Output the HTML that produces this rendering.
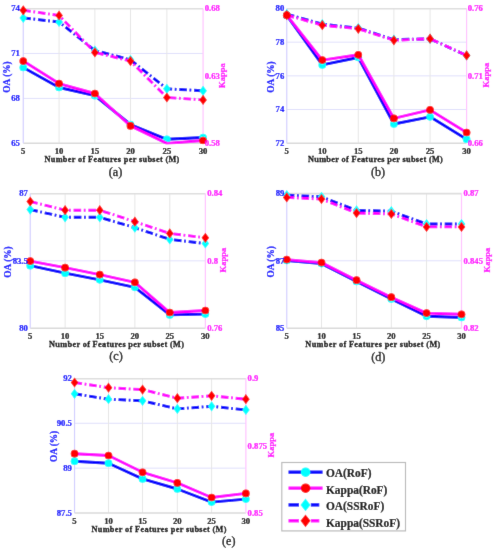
<!DOCTYPE html>
<html><head><meta charset="utf-8"><style>
html,body{margin:0;padding:0;background:#fff;}
svg{display:block;}
text{font-family:'Liberation Serif', serif;}
.tl{font-size:8.7px;font-weight:bold;stroke-width:0.22px;}
.xl{font-size:9.0px;font-weight:bold;fill:#000;stroke:#000;stroke-width:0.28px;}
.yl{font-size:9.3px;font-weight:bold;stroke-width:0.2px;}
.kl{font-size:8.6px;font-weight:bold;stroke-width:0.2px;}
.ti{font-size:12.2px;fill:#000;stroke:#000;stroke-width:0.3px;}
.lg{font-size:11.4px;font-weight:bold;fill:#000;stroke:#000;stroke-width:0.2px;}
</style></head><body>
<svg width="496" height="550" viewBox="0 0 496 550">
<defs>
<filter id="bl" x="0" y="0" width="496" height="550" filterUnits="userSpaceOnUse" primitiveUnits="userSpaceOnUse"><feConvolveMatrix order="3" kernelMatrix="0.0052 0.0619 0.0052 0.0619 0.7314 0.0619 0.0052 0.0619 0.0052" edgeMode="duplicate"/></filter>
<clipPath id="ca"><rect x="17.27" y="0.5" width="191.81" height="144.05"/></clipPath>
<clipPath id="cb"><rect x="280.75" y="0.5" width="191.85" height="143.9"/></clipPath>
<clipPath id="cc"><rect x="24.24" y="185.45" width="187.12" height="143.95"/></clipPath>
<clipPath id="cd"><rect x="280.75" y="185.3" width="186.75" height="144.1"/></clipPath>
<clipPath id="ce"><rect x="68.54" y="370.4" width="183.33" height="143.8"/></clipPath>
</defs>
<g filter="url(#bl)">
<rect width="496" height="550" fill="#fff"/>
<line x1="23.27" y1="53.45" x2="203.08" y2="53.45" stroke="#e0e0fc" stroke-width="1"/>
<line x1="23.27" y1="98.4" x2="203.08" y2="98.4" stroke="#e0e0fc" stroke-width="1"/>
<line x1="59.07" y1="8.5" x2="59.07" y2="143.35" stroke="#e6e6e6" stroke-width="1"/>
<line x1="94.88" y1="8.5" x2="94.88" y2="143.35" stroke="#e6e6e6" stroke-width="1"/>
<line x1="130.48" y1="8.5" x2="130.48" y2="143.35" stroke="#e6e6e6" stroke-width="1"/>
<line x1="166.88" y1="8.5" x2="166.88" y2="143.35" stroke="#e6e6e6" stroke-width="1"/>
<line x1="23.27" y1="8.8" x2="203.08" y2="8.8" stroke="#dedede" stroke-width="1.6"/>
<line x1="23.27" y1="143.35" x2="203.08" y2="143.35" stroke="#dadada" stroke-width="1.5"/>
<line x1="23.27" y1="8.5" x2="23.27" y2="143.35" stroke="#d4d0ff" stroke-width="1.2"/>
<line x1="203.08" y1="8.5" x2="203.08" y2="143.35" stroke="#ffc4ff" stroke-width="1.2"/>
<g clip-path="url(#ca)">
<polyline points="23.27,67.5 59.07,87.5 94.88,95.7 130.48,124.5 166.88,139.3 203.08,137.5" fill="none" stroke="#0000ff" stroke-width="2.9" stroke-linejoin="round"/>
<polyline points="23.27,17.9 59.07,22 94.88,50.5 130.48,59.8 166.88,88.8 203.08,90.8" fill="none" stroke="#0000ff" stroke-width="2.9" stroke-dasharray="7.6 2.6 1.8 2.8"/>
<circle cx="23.27" cy="67.5" r="3.85" fill="#00ffff"/>
<circle cx="59.07" cy="87.5" r="3.85" fill="#00ffff"/>
<circle cx="94.88" cy="95.7" r="3.85" fill="#00ffff"/>
<circle cx="130.48" cy="124.5" r="3.85" fill="#00ffff"/>
<circle cx="166.88" cy="139.3" r="3.85" fill="#00ffff"/>
<circle cx="203.08" cy="137.5" r="3.85" fill="#00ffff"/>
<path d="M23.27 12.8L27.07 17.9L23.27 23L19.47 17.9Z" fill="#00ffff"/>
<path d="M59.07 16.9L62.87 22L59.07 27.1L55.27 22Z" fill="#00ffff"/>
<path d="M94.88 45.4L98.68 50.5L94.88 55.6L91.08 50.5Z" fill="#00ffff"/>
<path d="M130.48 54.7L134.28 59.8L130.48 64.9L126.68 59.8Z" fill="#00ffff"/>
<path d="M166.88 83.7L170.68 88.8L166.88 93.9L163.08 88.8Z" fill="#00ffff"/>
<path d="M203.08 85.7L206.88 90.8L203.08 95.9L199.28 90.8Z" fill="#00ffff"/>
<polyline points="23.27,61.1 59.07,83.6 94.88,93.5 130.48,125.9 166.88,143.4 203.08,140.5" fill="none" stroke="#ff00ff" stroke-width="2.9" stroke-linejoin="round"/>
<polyline points="23.27,10.3 59.07,15.5 94.88,52.4 130.48,61.1 166.88,97.5 203.08,99.9" fill="none" stroke="#ff00ff" stroke-width="2.9" stroke-dasharray="7.6 2.6 1.8 2.8"/>
<circle cx="23.27" cy="61.1" r="3.85" fill="#ff0000"/>
<circle cx="59.07" cy="83.6" r="3.85" fill="#ff0000"/>
<circle cx="94.88" cy="93.5" r="3.85" fill="#ff0000"/>
<circle cx="130.48" cy="125.9" r="3.85" fill="#ff0000"/>
<circle cx="203.08" cy="140.5" r="3.85" fill="#ff0000"/>
<path d="M23.27 5.2L27.07 10.3L23.27 15.4L19.47 10.3Z" fill="#ff0000"/>
<path d="M59.07 10.4L62.87 15.5L59.07 20.6L55.27 15.5Z" fill="#ff0000"/>
<path d="M94.88 47.3L98.68 52.4L94.88 57.5L91.08 52.4Z" fill="#ff0000"/>
<path d="M130.48 56L134.28 61.1L130.48 66.2L126.68 61.1Z" fill="#ff0000"/>
<path d="M166.88 92.4L170.68 97.5L166.88 102.6L163.08 97.5Z" fill="#ff0000"/>
<path d="M203.08 94.8L206.88 99.9L203.08 105L199.28 99.9Z" fill="#ff0000"/>
</g>
<text x="19.87" y="11.4" text-anchor="end" class="tl" fill="#0000ff" stroke="#0000ff">74</text>
<text x="19.87" y="56.35" text-anchor="end" class="tl" fill="#0000ff" stroke="#0000ff">71</text>
<text x="19.87" y="101.3" text-anchor="end" class="tl" fill="#0000ff" stroke="#0000ff">68</text>
<text x="19.87" y="146.25" text-anchor="end" class="tl" fill="#0000ff" stroke="#0000ff">65</text>
<text x="204.68" y="11.4" class="tl" fill="#ff00ff" stroke="#ff00ff">0.68</text>
<text x="204.68" y="78.83" class="tl" fill="#ff00ff" stroke="#ff00ff">0.63</text>
<text x="204.68" y="146.25" class="tl" fill="#ff00ff" stroke="#ff00ff">0.58</text>
<text x="23.27" y="153.9" text-anchor="middle" class="tl" fill="#000" stroke="#000">5</text>
<text x="59.07" y="153.9" text-anchor="middle" class="tl" fill="#000" stroke="#000">10</text>
<text x="94.88" y="153.9" text-anchor="middle" class="tl" fill="#000" stroke="#000">15</text>
<text x="130.48" y="153.9" text-anchor="middle" class="tl" fill="#000" stroke="#000">20</text>
<text x="166.88" y="153.9" text-anchor="middle" class="tl" fill="#000" stroke="#000">25</text>
<text x="203.08" y="153.9" text-anchor="middle" class="tl" fill="#000" stroke="#000">30</text>
<text transform="translate(111.88 162.3) scale(0.92 1)" text-anchor="middle" class="xl" textLength="146.74" lengthAdjust="spacing">Number of Features per subset (M)</text>
<text transform="translate(10.2 77) rotate(-90)" text-anchor="middle" class="yl" fill="#0000ff" stroke="#0000ff">OA (%)</text>
<text transform="translate(224.9 75.6) rotate(-90)" text-anchor="middle" class="kl" fill="#ff00ff" stroke="#ff00ff">Kappa</text>
<text x="115.5" y="176.1" text-anchor="middle" class="ti">(a)</text>
<line x1="286.75" y1="42.17" x2="466.6" y2="42.17" stroke="#e0e0fc" stroke-width="1"/>
<line x1="286.75" y1="75.85" x2="466.6" y2="75.85" stroke="#e0e0fc" stroke-width="1"/>
<line x1="286.75" y1="109.52" x2="466.6" y2="109.52" stroke="#e0e0fc" stroke-width="1"/>
<line x1="322.3" y1="8.5" x2="322.3" y2="143.2" stroke="#e6e6e6" stroke-width="1"/>
<line x1="358.3" y1="8.5" x2="358.3" y2="143.2" stroke="#e6e6e6" stroke-width="1"/>
<line x1="393.9" y1="8.5" x2="393.9" y2="143.2" stroke="#e6e6e6" stroke-width="1"/>
<line x1="430.06" y1="8.5" x2="430.06" y2="143.2" stroke="#e6e6e6" stroke-width="1"/>
<line x1="286.75" y1="8.8" x2="466.6" y2="8.8" stroke="#dedede" stroke-width="1.6"/>
<line x1="286.75" y1="143.2" x2="466.6" y2="143.2" stroke="#dadada" stroke-width="1.5"/>
<line x1="286.75" y1="8.5" x2="286.75" y2="143.2" stroke="#d4d0ff" stroke-width="1.2"/>
<line x1="466.6" y1="8.5" x2="466.6" y2="143.2" stroke="#ffc4ff" stroke-width="1.2"/>
<g clip-path="url(#cb)">
<polyline points="286.75,15.5 322.3,64.9 358.3,57.5 393.9,124 430.06,116.8 466.6,139.2" fill="none" stroke="#0000ff" stroke-width="2.9" stroke-linejoin="round"/>
<polyline points="286.75,14.2 322.3,24.2 358.3,28.1 393.9,39.7 430.06,38.8 466.6,55.5" fill="none" stroke="#0000ff" stroke-width="2.9" stroke-dasharray="7.6 2.6 1.8 2.8"/>
<circle cx="286.75" cy="15.5" r="3.85" fill="#00ffff"/>
<circle cx="322.3" cy="64.9" r="3.85" fill="#00ffff"/>
<circle cx="358.3" cy="57.5" r="3.85" fill="#00ffff"/>
<circle cx="393.9" cy="124" r="3.85" fill="#00ffff"/>
<circle cx="430.06" cy="116.8" r="3.85" fill="#00ffff"/>
<circle cx="466.6" cy="139.2" r="3.85" fill="#00ffff"/>
<path d="M286.75 9.1L290.55 14.2L286.75 19.3L282.95 14.2Z" fill="#00ffff"/>
<path d="M322.3 19.1L326.1 24.2L322.3 29.3L318.5 24.2Z" fill="#00ffff"/>
<path d="M358.3 23L362.1 28.1L358.3 33.2L354.5 28.1Z" fill="#00ffff"/>
<path d="M393.9 34.6L397.7 39.7L393.9 44.8L390.1 39.7Z" fill="#00ffff"/>
<path d="M430.06 33.7L433.86 38.8L430.06 43.9L426.26 38.8Z" fill="#00ffff"/>
<path d="M466.6 50.4L470.4 55.5L466.6 60.6L462.8 55.5Z" fill="#00ffff"/>
<polyline points="286.75,15.2 322.3,60.1 358.3,54.8 393.9,118.4 430.06,109.9 466.6,132.5" fill="none" stroke="#ff00ff" stroke-width="2.9" stroke-linejoin="round"/>
<polyline points="286.75,15.2 322.3,25.2 358.3,28.8 393.9,40.3 430.06,38.7 466.6,55.4" fill="none" stroke="#ff00ff" stroke-width="2.9" stroke-dasharray="7.6 2.6 1.8 2.8"/>
<circle cx="286.75" cy="15.2" r="3.85" fill="#ff0000"/>
<circle cx="322.3" cy="60.1" r="3.85" fill="#ff0000"/>
<circle cx="358.3" cy="54.8" r="3.85" fill="#ff0000"/>
<circle cx="393.9" cy="118.4" r="3.85" fill="#ff0000"/>
<circle cx="430.06" cy="109.9" r="3.85" fill="#ff0000"/>
<circle cx="466.6" cy="132.5" r="3.85" fill="#ff0000"/>
<path d="M286.75 10.1L290.55 15.2L286.75 20.3L282.95 15.2Z" fill="#ff0000"/>
<path d="M322.3 20.1L326.1 25.2L322.3 30.3L318.5 25.2Z" fill="#ff0000"/>
<path d="M358.3 23.7L362.1 28.8L358.3 33.9L354.5 28.8Z" fill="#ff0000"/>
<path d="M393.9 35.2L397.7 40.3L393.9 45.4L390.1 40.3Z" fill="#ff0000"/>
<path d="M430.06 33.6L433.86 38.7L430.06 43.8L426.26 38.7Z" fill="#ff0000"/>
<path d="M466.6 50.3L470.4 55.4L466.6 60.5L462.8 55.4Z" fill="#ff0000"/>
</g>
<text x="284.25" y="11.4" text-anchor="end" class="tl" fill="#0000ff" stroke="#0000ff">80</text>
<text x="284.25" y="45.07" text-anchor="end" class="tl" fill="#0000ff" stroke="#0000ff">78</text>
<text x="284.25" y="78.75" text-anchor="end" class="tl" fill="#0000ff" stroke="#0000ff">76</text>
<text x="284.25" y="112.42" text-anchor="end" class="tl" fill="#0000ff" stroke="#0000ff">74</text>
<text x="284.25" y="146.1" text-anchor="end" class="tl" fill="#0000ff" stroke="#0000ff">72</text>
<text x="467.7" y="11.4" class="tl" fill="#ff00ff" stroke="#ff00ff">0.76</text>
<text x="467.7" y="78.75" class="tl" fill="#ff00ff" stroke="#ff00ff">0.71</text>
<text x="467.7" y="146.1" class="tl" fill="#ff00ff" stroke="#ff00ff">0.66</text>
<text x="286.75" y="154" text-anchor="middle" class="tl" fill="#000" stroke="#000">5</text>
<text x="322.3" y="154" text-anchor="middle" class="tl" fill="#000" stroke="#000">10</text>
<text x="358.3" y="154" text-anchor="middle" class="tl" fill="#000" stroke="#000">15</text>
<text x="393.9" y="154" text-anchor="middle" class="tl" fill="#000" stroke="#000">20</text>
<text x="430.06" y="154" text-anchor="middle" class="tl" fill="#000" stroke="#000">25</text>
<text x="466.6" y="154" text-anchor="middle" class="tl" fill="#000" stroke="#000">30</text>
<text transform="translate(375.38 162.3) scale(0.92 1)" text-anchor="middle" class="xl" textLength="146.74" lengthAdjust="spacing">Number of Features per subset (M)</text>
<text transform="translate(273.5 77) rotate(-90)" text-anchor="middle" class="yl" fill="#0000ff" stroke="#0000ff">OA (%)</text>
<text transform="translate(488.7 75) rotate(-90)" text-anchor="middle" class="kl" fill="#ff00ff" stroke="#ff00ff">Kappa</text>
<text x="378" y="175.8" text-anchor="middle" class="ti">(b)</text>
<line x1="30.24" y1="260.82" x2="205.36" y2="260.82" stroke="#e0e0fc" stroke-width="1"/>
<line x1="65.1" y1="193.45" x2="65.1" y2="328.2" stroke="#e6e6e6" stroke-width="1"/>
<line x1="99.78" y1="193.45" x2="99.78" y2="328.2" stroke="#e6e6e6" stroke-width="1"/>
<line x1="134.86" y1="193.45" x2="134.86" y2="328.2" stroke="#e6e6e6" stroke-width="1"/>
<line x1="169.78" y1="193.45" x2="169.78" y2="328.2" stroke="#e6e6e6" stroke-width="1"/>
<line x1="30.24" y1="193.75" x2="205.36" y2="193.75" stroke="#dedede" stroke-width="1.6"/>
<line x1="30.24" y1="328.2" x2="205.36" y2="328.2" stroke="#dadada" stroke-width="1.5"/>
<line x1="30.24" y1="193.45" x2="30.24" y2="328.2" stroke="#d4d0ff" stroke-width="1.2"/>
<line x1="205.36" y1="193.45" x2="205.36" y2="328.2" stroke="#ffc4ff" stroke-width="1.2"/>
<g clip-path="url(#cc)">
<polyline points="30.24,265.7 65.1,273.2 99.78,279.8 134.86,287.3 169.78,314.9 205.36,314.1" fill="none" stroke="#0000ff" stroke-width="2.9" stroke-linejoin="round"/>
<polyline points="30.24,209.6 65.1,217.3 99.78,217.3 134.86,227.7 169.78,239.4 205.36,243.5" fill="none" stroke="#0000ff" stroke-width="2.9" stroke-dasharray="7.6 2.6 1.8 2.8"/>
<circle cx="30.24" cy="265.7" r="3.85" fill="#00ffff"/>
<circle cx="65.1" cy="273.2" r="3.85" fill="#00ffff"/>
<circle cx="99.78" cy="279.8" r="3.85" fill="#00ffff"/>
<circle cx="134.86" cy="287.3" r="3.85" fill="#00ffff"/>
<circle cx="169.78" cy="314.9" r="3.85" fill="#00ffff"/>
<circle cx="205.36" cy="314.1" r="3.85" fill="#00ffff"/>
<path d="M30.24 204.5L34.04 209.6L30.24 214.7L26.44 209.6Z" fill="#00ffff"/>
<path d="M65.1 212.2L68.9 217.3L65.1 222.4L61.3 217.3Z" fill="#00ffff"/>
<path d="M99.78 212.2L103.58 217.3L99.78 222.4L95.98 217.3Z" fill="#00ffff"/>
<path d="M134.86 222.6L138.66 227.7L134.86 232.8L131.06 227.7Z" fill="#00ffff"/>
<path d="M169.78 234.3L173.58 239.4L169.78 244.5L165.98 239.4Z" fill="#00ffff"/>
<path d="M205.36 238.4L209.16 243.5L205.36 248.6L201.56 243.5Z" fill="#00ffff"/>
<polyline points="30.24,261.1 65.1,267.7 99.78,274.6 134.86,282.3 169.78,312.5 205.36,310.5" fill="none" stroke="#ff00ff" stroke-width="2.9" stroke-linejoin="round"/>
<polyline points="30.24,201.5 65.1,210.2 99.78,210.2 134.86,221.7 169.78,233.4 205.36,237.8" fill="none" stroke="#ff00ff" stroke-width="2.9" stroke-dasharray="7.6 2.6 1.8 2.8"/>
<circle cx="30.24" cy="261.1" r="3.85" fill="#ff0000"/>
<circle cx="65.1" cy="267.7" r="3.85" fill="#ff0000"/>
<circle cx="99.78" cy="274.6" r="3.85" fill="#ff0000"/>
<circle cx="134.86" cy="282.3" r="3.85" fill="#ff0000"/>
<circle cx="169.78" cy="312.5" r="3.85" fill="#ff0000"/>
<circle cx="205.36" cy="310.5" r="3.85" fill="#ff0000"/>
<path d="M30.24 196.4L34.04 201.5L30.24 206.6L26.44 201.5Z" fill="#ff0000"/>
<path d="M65.1 205.1L68.9 210.2L65.1 215.3L61.3 210.2Z" fill="#ff0000"/>
<path d="M99.78 205.1L103.58 210.2L99.78 215.3L95.98 210.2Z" fill="#ff0000"/>
<path d="M134.86 216.6L138.66 221.7L134.86 226.8L131.06 221.7Z" fill="#ff0000"/>
<path d="M169.78 228.3L173.58 233.4L169.78 238.5L165.98 233.4Z" fill="#ff0000"/>
<path d="M205.36 232.7L209.16 237.8L205.36 242.9L201.56 237.8Z" fill="#ff0000"/>
</g>
<text x="27.84" y="196.35" text-anchor="end" class="tl" fill="#0000ff" stroke="#0000ff">87</text>
<text x="27.84" y="263.72" text-anchor="end" class="tl" fill="#0000ff" stroke="#0000ff">83.5</text>
<text x="27.84" y="331.1" text-anchor="end" class="tl" fill="#0000ff" stroke="#0000ff">80</text>
<text x="207.16" y="196.35" class="tl" fill="#ff00ff" stroke="#ff00ff">0.84</text>
<text x="207.16" y="263.72" class="tl" fill="#ff00ff" stroke="#ff00ff">0.8</text>
<text x="207.16" y="331.1" class="tl" fill="#ff00ff" stroke="#ff00ff">0.76</text>
<text x="30.24" y="338.8" text-anchor="middle" class="tl" fill="#000" stroke="#000">5</text>
<text x="65.1" y="338.8" text-anchor="middle" class="tl" fill="#000" stroke="#000">10</text>
<text x="99.78" y="338.8" text-anchor="middle" class="tl" fill="#000" stroke="#000">15</text>
<text x="134.86" y="338.8" text-anchor="middle" class="tl" fill="#000" stroke="#000">20</text>
<text x="169.78" y="338.8" text-anchor="middle" class="tl" fill="#000" stroke="#000">25</text>
<text x="205.36" y="338.8" text-anchor="middle" class="tl" fill="#000" stroke="#000">30</text>
<text transform="translate(116.5 347) scale(0.92 1)" text-anchor="middle" class="xl" textLength="146.74" lengthAdjust="spacing">Number of Features per subset (M)</text>
<text transform="translate(10.5 262) rotate(-90)" text-anchor="middle" class="yl" fill="#0000ff" stroke="#0000ff">OA (%)</text>
<text transform="translate(225.6 260) rotate(-90)" text-anchor="middle" class="kl" fill="#ff00ff" stroke="#ff00ff">Kappa</text>
<text x="116" y="360.3" text-anchor="middle" class="ti">(c)</text>
<line x1="286.75" y1="260.75" x2="461.5" y2="260.75" stroke="#e0e0fc" stroke-width="1"/>
<line x1="321.5" y1="193.3" x2="321.5" y2="328.2" stroke="#e6e6e6" stroke-width="1"/>
<line x1="356.55" y1="193.3" x2="356.55" y2="328.2" stroke="#e6e6e6" stroke-width="1"/>
<line x1="391.33" y1="193.3" x2="391.33" y2="328.2" stroke="#e6e6e6" stroke-width="1"/>
<line x1="426.55" y1="193.3" x2="426.55" y2="328.2" stroke="#e6e6e6" stroke-width="1"/>
<line x1="286.75" y1="193.6" x2="461.5" y2="193.6" stroke="#dedede" stroke-width="1.6"/>
<line x1="286.75" y1="328.2" x2="461.5" y2="328.2" stroke="#dadada" stroke-width="1.5"/>
<line x1="286.75" y1="193.3" x2="286.75" y2="328.2" stroke="#d4d0ff" stroke-width="1.2"/>
<line x1="461.5" y1="193.3" x2="461.5" y2="328.2" stroke="#ffc4ff" stroke-width="1.2"/>
<g clip-path="url(#cd)">
<polyline points="286.75,260.5 321.5,263.6 356.55,281.4 391.33,299 426.55,316.3 461.5,317.5" fill="none" stroke="#0000ff" stroke-width="2.9" stroke-linejoin="round"/>
<polyline points="286.75,195.2 321.5,196.8 356.55,210.4 391.33,211.2 426.55,224 461.5,224" fill="none" stroke="#0000ff" stroke-width="2.9" stroke-dasharray="7.6 2.6 1.8 2.8"/>
<circle cx="286.75" cy="260.5" r="3.85" fill="#00ffff"/>
<circle cx="321.5" cy="263.6" r="3.85" fill="#00ffff"/>
<circle cx="356.55" cy="281.4" r="3.85" fill="#00ffff"/>
<circle cx="391.33" cy="299" r="3.85" fill="#00ffff"/>
<circle cx="426.55" cy="316.3" r="3.85" fill="#00ffff"/>
<circle cx="461.5" cy="317.5" r="3.85" fill="#00ffff"/>
<path d="M286.75 190.1L290.55 195.2L286.75 200.3L282.95 195.2Z" fill="#00ffff"/>
<path d="M321.5 191.7L325.3 196.8L321.5 201.9L317.7 196.8Z" fill="#00ffff"/>
<path d="M356.55 205.3L360.35 210.4L356.55 215.5L352.75 210.4Z" fill="#00ffff"/>
<path d="M391.33 206.1L395.13 211.2L391.33 216.3L387.53 211.2Z" fill="#00ffff"/>
<path d="M426.55 218.9L430.35 224L426.55 229.1L422.75 224Z" fill="#00ffff"/>
<path d="M461.5 218.9L465.3 224L461.5 229.1L457.7 224Z" fill="#00ffff"/>
<polyline points="286.75,259.6 321.5,262.6 356.55,280.2 391.33,297.2 426.55,313.1 461.5,314.3" fill="none" stroke="#ff00ff" stroke-width="2.9" stroke-linejoin="round"/>
<polyline points="286.75,197.4 321.5,199.1 356.55,213.1 391.33,213.9 426.55,226.9 461.5,226.9" fill="none" stroke="#ff00ff" stroke-width="2.9" stroke-dasharray="7.6 2.6 1.8 2.8"/>
<circle cx="286.75" cy="259.6" r="3.85" fill="#ff0000"/>
<circle cx="321.5" cy="262.6" r="3.85" fill="#ff0000"/>
<circle cx="356.55" cy="280.2" r="3.85" fill="#ff0000"/>
<circle cx="391.33" cy="297.2" r="3.85" fill="#ff0000"/>
<circle cx="426.55" cy="313.1" r="3.85" fill="#ff0000"/>
<circle cx="461.5" cy="314.3" r="3.85" fill="#ff0000"/>
<path d="M286.75 192.3L290.55 197.4L286.75 202.5L282.95 197.4Z" fill="#ff0000"/>
<path d="M321.5 194L325.3 199.1L321.5 204.2L317.7 199.1Z" fill="#ff0000"/>
<path d="M356.55 208L360.35 213.1L356.55 218.2L352.75 213.1Z" fill="#ff0000"/>
<path d="M391.33 208.8L395.13 213.9L391.33 219L387.53 213.9Z" fill="#ff0000"/>
<path d="M426.55 221.8L430.35 226.9L426.55 232L422.75 226.9Z" fill="#ff0000"/>
<path d="M461.5 221.8L465.3 226.9L461.5 232L457.7 226.9Z" fill="#ff0000"/>
</g>
<text x="284.35" y="196.2" text-anchor="end" class="tl" fill="#0000ff" stroke="#0000ff">89</text>
<text x="284.35" y="263.65" text-anchor="end" class="tl" fill="#0000ff" stroke="#0000ff">87</text>
<text x="284.35" y="331.1" text-anchor="end" class="tl" fill="#0000ff" stroke="#0000ff">85</text>
<text x="463.5" y="196.2" class="tl" fill="#ff00ff" stroke="#ff00ff">0.87</text>
<text x="463.5" y="263.65" class="tl" fill="#ff00ff" stroke="#ff00ff">0.845</text>
<text x="463.5" y="331.1" class="tl" fill="#ff00ff" stroke="#ff00ff">0.82</text>
<text x="286.75" y="338.8" text-anchor="middle" class="tl" fill="#000" stroke="#000">5</text>
<text x="321.5" y="338.8" text-anchor="middle" class="tl" fill="#000" stroke="#000">10</text>
<text x="356.55" y="338.8" text-anchor="middle" class="tl" fill="#000" stroke="#000">15</text>
<text x="391.33" y="338.8" text-anchor="middle" class="tl" fill="#000" stroke="#000">20</text>
<text x="426.55" y="338.8" text-anchor="middle" class="tl" fill="#000" stroke="#000">25</text>
<text x="461.5" y="338.8" text-anchor="middle" class="tl" fill="#000" stroke="#000">30</text>
<text transform="translate(372.82 346.7) scale(0.92 1)" text-anchor="middle" class="xl" textLength="146.74" lengthAdjust="spacing">Number of Features per subset (M)</text>
<text transform="translate(274.2 261.8) rotate(-90)" text-anchor="middle" class="yl" fill="#0000ff" stroke="#0000ff">OA (%)</text>
<text transform="translate(490.2 260) rotate(-90)" text-anchor="middle" class="kl" fill="#ff00ff" stroke="#ff00ff">Kappa</text>
<text x="378.3" y="360.8" text-anchor="middle" class="ti">(d)</text>
<line x1="74.54" y1="423.27" x2="245.87" y2="423.27" stroke="#e0e0fc" stroke-width="1"/>
<line x1="74.54" y1="468.13" x2="245.87" y2="468.13" stroke="#e0e0fc" stroke-width="1"/>
<line x1="108.5" y1="378.4" x2="108.5" y2="513" stroke="#e6e6e6" stroke-width="1"/>
<line x1="142.56" y1="378.4" x2="142.56" y2="513" stroke="#e6e6e6" stroke-width="1"/>
<line x1="177.34" y1="378.4" x2="177.34" y2="513" stroke="#e6e6e6" stroke-width="1"/>
<line x1="211.6" y1="378.4" x2="211.6" y2="513" stroke="#e6e6e6" stroke-width="1"/>
<line x1="74.54" y1="378.7" x2="245.87" y2="378.7" stroke="#dedede" stroke-width="1.6"/>
<line x1="74.54" y1="513" x2="245.87" y2="513" stroke="#dadada" stroke-width="1.5"/>
<line x1="74.54" y1="378.4" x2="74.54" y2="513" stroke="#d4d0ff" stroke-width="1.2"/>
<line x1="245.87" y1="378.4" x2="245.87" y2="513" stroke="#ffc4ff" stroke-width="1.2"/>
<g clip-path="url(#ce)">
<polyline points="74.54,461.2 108.5,463.2 142.56,478.9 177.34,489 211.6,502.1 245.87,499.1" fill="none" stroke="#0000ff" stroke-width="2.9" stroke-linejoin="round"/>
<polyline points="74.54,393.8 108.5,399.2 142.56,400.8 177.34,408.9 211.6,406.3 245.87,409.9" fill="none" stroke="#0000ff" stroke-width="2.9" stroke-dasharray="7.6 2.6 1.8 2.8"/>
<circle cx="74.54" cy="461.2" r="3.85" fill="#00ffff"/>
<circle cx="108.5" cy="463.2" r="3.85" fill="#00ffff"/>
<circle cx="142.56" cy="478.9" r="3.85" fill="#00ffff"/>
<circle cx="177.34" cy="489" r="3.85" fill="#00ffff"/>
<circle cx="211.6" cy="502.1" r="3.85" fill="#00ffff"/>
<circle cx="245.87" cy="499.1" r="3.85" fill="#00ffff"/>
<path d="M74.54 388.7L78.34 393.8L74.54 398.9L70.74 393.8Z" fill="#00ffff"/>
<path d="M108.5 394.1L112.3 399.2L108.5 404.3L104.7 399.2Z" fill="#00ffff"/>
<path d="M142.56 395.7L146.36 400.8L142.56 405.9L138.76 400.8Z" fill="#00ffff"/>
<path d="M177.34 403.8L181.14 408.9L177.34 414L173.54 408.9Z" fill="#00ffff"/>
<path d="M211.6 401.2L215.4 406.3L211.6 411.4L207.8 406.3Z" fill="#00ffff"/>
<path d="M245.87 404.8L249.67 409.9L245.87 415L242.07 409.9Z" fill="#00ffff"/>
<polyline points="74.54,453.7 108.5,455.5 142.56,472.3 177.34,482.9 211.6,497.5 245.87,493.4" fill="none" stroke="#ff00ff" stroke-width="2.9" stroke-linejoin="round"/>
<polyline points="74.54,382.5 108.5,387.7 142.56,389.6 177.34,398.2 211.6,395.8 245.87,399.2" fill="none" stroke="#ff00ff" stroke-width="2.9" stroke-dasharray="7.6 2.6 1.8 2.8"/>
<circle cx="74.54" cy="453.7" r="3.85" fill="#ff0000"/>
<circle cx="108.5" cy="455.5" r="3.85" fill="#ff0000"/>
<circle cx="142.56" cy="472.3" r="3.85" fill="#ff0000"/>
<circle cx="177.34" cy="482.9" r="3.85" fill="#ff0000"/>
<circle cx="211.6" cy="497.5" r="3.85" fill="#ff0000"/>
<circle cx="245.87" cy="493.4" r="3.85" fill="#ff0000"/>
<path d="M74.54 377.4L78.34 382.5L74.54 387.6L70.74 382.5Z" fill="#ff0000"/>
<path d="M108.5 382.6L112.3 387.7L108.5 392.8L104.7 387.7Z" fill="#ff0000"/>
<path d="M142.56 384.5L146.36 389.6L142.56 394.7L138.76 389.6Z" fill="#ff0000"/>
<path d="M177.34 393.1L181.14 398.2L177.34 403.3L173.54 398.2Z" fill="#ff0000"/>
<path d="M211.6 390.7L215.4 395.8L211.6 400.9L207.8 395.8Z" fill="#ff0000"/>
<path d="M245.87 394.1L249.67 399.2L245.87 404.3L242.07 399.2Z" fill="#ff0000"/>
</g>
<text x="71.94" y="381.3" text-anchor="end" class="tl" fill="#0000ff" stroke="#0000ff">92</text>
<text x="71.94" y="426.17" text-anchor="end" class="tl" fill="#0000ff" stroke="#0000ff">90.5</text>
<text x="71.94" y="471.03" text-anchor="end" class="tl" fill="#0000ff" stroke="#0000ff">89</text>
<text x="71.94" y="515.9" text-anchor="end" class="tl" fill="#0000ff" stroke="#0000ff">87.5</text>
<text x="247.57" y="381.3" class="tl" fill="#ff00ff" stroke="#ff00ff">0.9</text>
<text x="247.57" y="448.6" class="tl" fill="#ff00ff" stroke="#ff00ff">0.875</text>
<text x="247.57" y="515.9" class="tl" fill="#ff00ff" stroke="#ff00ff">0.85</text>
<text x="74.54" y="523.5" text-anchor="middle" class="tl" fill="#000" stroke="#000">5</text>
<text x="108.5" y="523.5" text-anchor="middle" class="tl" fill="#000" stroke="#000">10</text>
<text x="142.56" y="523.5" text-anchor="middle" class="tl" fill="#000" stroke="#000">15</text>
<text x="177.34" y="523.5" text-anchor="middle" class="tl" fill="#000" stroke="#000">20</text>
<text x="211.6" y="523.5" text-anchor="middle" class="tl" fill="#000" stroke="#000">25</text>
<text x="245.87" y="523.5" text-anchor="middle" class="tl" fill="#000" stroke="#000">30</text>
<text transform="translate(158.91 531.5) scale(0.92 1)" text-anchor="middle" class="xl" textLength="146.74" lengthAdjust="spacing">Number of Features per subset (M)</text>
<text transform="translate(57.4 446.4) rotate(-90)" text-anchor="middle" class="yl" fill="#0000ff" stroke="#0000ff">OA (%)</text>
<text transform="translate(274.3 445) rotate(-90)" text-anchor="middle" class="kl" fill="#ff00ff" stroke="#ff00ff">Kappa</text>
<text x="228.7" y="545.3" text-anchor="middle" class="ti">(e)</text>
<rect x="281.8" y="462.5" width="123.7" height="68.4" fill="#fff" stroke="#bcbcbc" stroke-width="1.2"/>
<line x1="288.5" y1="472.2" x2="322.6" y2="472.2" stroke="#0000ff" stroke-width="3.3"/>
<circle cx="305.6" cy="472.2" r="4.8" fill="#00ffff"/>
<text transform="translate(326.0 477) scale(1 1.05)" class="lg">OA(RoF)</text>
<line x1="288.5" y1="488.2" x2="322.6" y2="488.2" stroke="#ff00ff" stroke-width="3.3"/>
<circle cx="305.6" cy="488.2" r="4.8" fill="#ff0000"/>
<text transform="translate(326.0 493.5) scale(1 1.05)" class="lg">Kappa(RoF)</text>
<line x1="288.5" y1="504.9" x2="299" y2="504.9" stroke="#0000ff" stroke-width="3.3"/>
<line x1="310.8" y1="504.9" x2="319.3" y2="504.9" stroke="#0000ff" stroke-width="3.3"/>
<path d="M305.5 498.5L310.5 504.9L305.5 511.3L300.5 504.9Z" fill="#00ffff"/>
<text transform="translate(326.0 510.3) scale(1 1.05)" class="lg">OA(SSRoF)</text>
<line x1="288.5" y1="520.8" x2="299" y2="520.8" stroke="#ff00ff" stroke-width="3.3"/>
<line x1="310.8" y1="520.8" x2="319.3" y2="520.8" stroke="#ff00ff" stroke-width="3.3"/>
<path d="M305.5 514.4L310.5 520.8L305.5 527.2L300.5 520.8Z" fill="#ff0000"/>
<text transform="translate(326.0 526.7) scale(1 1.05)" class="lg">Kappa(SSRoF)</text>
</g>
</svg>
</body></html>
